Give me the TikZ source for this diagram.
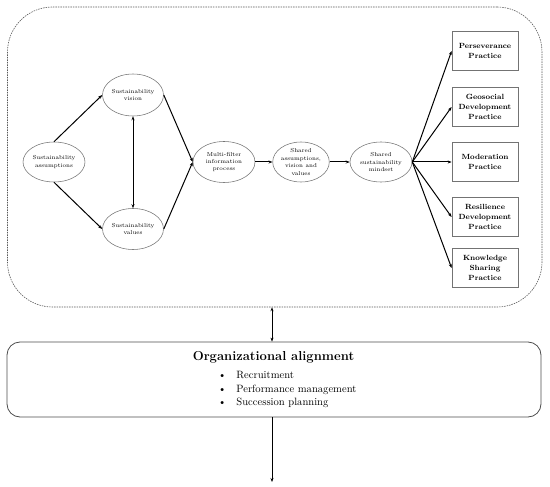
\documentclass[tikz,border=0pt]{standalone}
\usetikzlibrary{shapes.geometric,arrows.meta,calc}
\begin{document}
\begin{tikzpicture}[x=1pt,y=-1pt,
  ell/.style={draw=black!55,line width=0.55pt,ellipse,inner sep=0pt,align=center,
    font=\fontsize{5.8}{7.4}\selectfont},
  prac/.style={draw=black!55,line width=0.8pt,rectangle,inner sep=0pt,align=center,
    minimum width=66pt,minimum height=39pt,font=\bfseries\fontsize{7.5}{9.6}\selectfont},
  arr/.style={line width=1pt,-{Stealth[length=4pt,width=3pt]}},
  darr/.style={line width=1pt,{Stealth[length=4pt,width=3pt]}-{Stealth[length=4pt,width=3pt]}},
]
\useasboundingbox (0,0) rectangle (550,487);
% frame
\node[draw=black!65,dash pattern=on 1.5pt off 1pt,line width=0.6pt,rounded corners=45pt,
  minimum width=534.5pt,minimum height=300pt,inner sep=0pt] (frame) at (274.75,157) {};
% ellipses
\node[ell,minimum width=62pt,minimum height=40pt] (sa) at (54,162) {Sustainability\\assumptions};
\node[ell,minimum width=61pt,minimum height=42pt] (sv) at (133,95) {Sustainability\\vision};
\node[ell,minimum width=61pt,minimum height=41pt] (sval) at (133,229) {Sustainability\\values};
\node[ell,minimum width=62pt,minimum height=41pt] (mf) at (224,162) {Multi-filter\\information\\process};
\node[ell,minimum width=55pt,minimum height=40pt] (sh) at (301,162) {Shared\\assumptions,\\vision and\\values};
\node[ell,minimum width=62pt,minimum height=40pt] (sm) at (381,162) {Shared\\sustainability\\mindset};
% practices
\node[prac] (p1) at (485,51) {Perseverance\\Practice};
\node[prac] (p2) at (485,107) {Geosocial\\Development\\Practice};
\node[prac] (p3) at (485,162) {Moderation\\Practice};
\node[prac] (p4) at (485,217) {Resilience\\Development\\Practice};
\node[prac] (p5) at (485,268) {Knowledge\\Sharing\\Practice};
% arrows
\draw[arr] (sa.north) -- (sv.west);
\draw[arr] (sa.south) -- (sval.west);
\draw[darr] (sv.south) -- (sval.north);
\draw[arr] (sv.east) -- (mf.west);
\draw[arr] (sval.east) -- (mf.west);
\draw[arr] (mf.east) -- (sh.west);
\draw[arr] (sh.east) -- (sm.west);
\foreach \p in {p1,p2,p3,p4,p5} \draw[arr] (sm.east) -- (\p.west);
% organizational alignment
\node[draw=black!70,line width=0.8pt,rounded corners=13pt,minimum width=534pt,minimum height=75pt,
  inner sep=0pt] (org) at (274,379.5) {};
\node[font=\bfseries\fontsize{13}{15}\selectfont] (title) at (273.5,357) {Organizational alignment};
\node[anchor=west,inner sep=0pt,font=\fontsize{10.6}{13.2}\selectfont] (list) at (218,389.5)
  {\begin{tabular}{@{}l@{\hspace{10pt}}l@{}}\textbullet & Recruitment\\ \textbullet & Performance management\\ \textbullet & Succession planning\end{tabular}};
\coordinate (ax) at (272,0);
\coordinate (end) at (272,482);
\draw[darr] (frame.south -| ax) -- (org.north -| ax);
\draw[arr] (org.south -| ax) -- (end);
\end{tikzpicture}
\end{document}
